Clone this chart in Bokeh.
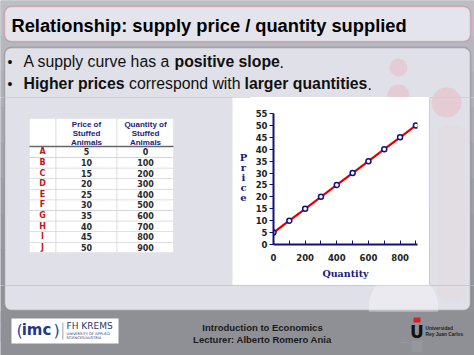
from bokeh.plotting import figure
from bokeh.models import Range1d, BoxAnnotation, Label, FixedTicker, LinearAxis
from bokeh.layouts import column, row
from bokeh.embed import file_html
from bokeh.resources import INLINE

# ---------------- data ----------------
row_labels = ["A", "B", "C", "D", "E", "F", "G", "H", "I", "J"]
price = [5, 10, 15, 20, 25, 30, 35, 40, 45, 50]
quantity = [0, 100, 200, 300, 400, 500, 600, 700, 800, 900]
x_major_ticks = [0, 200, 400, 600, 800]
x_minor_ticks = [100, 300, 500, 700, 900]
y_ticks = [0, 5, 10, 15, 20, 25, 30, 35, 40, 45, 50, 55]

title_text = "Relationship: supply price / quantity supplied"
header_price = ["Price of", "Stuffed", "Animals"]
header_qty = ["Quantity of", "Stuffed", "Animals"]

W, H = 474, 355
# layout cuts (page pixels)
Y_TOP, Y_BOT = 97, 285          # middle band (chart panel rows)
X_CH0, X_CH1 = 250, 429         # chart figure columns
FL, FR, FT, FB = 273, 417, 113, 244   # chart frame edges

# ---------------- decoration items (page pixel coordinates) ----------------
boxes = []
labels = []


def box(l, t, r, b, fill, line=None, lw=1.0, radius=0, alpha=1.0):
    boxes.append(dict(l=l, t=t, r=r, b=b, fill=fill, line=line, lw=lw,
                      radius=radius, alpha=alpha))


def lab(text, x, y, size, color="#111111", style="normal", align="left",
        font="Liberation Sans"):
    labels.append(dict(text=text, x=x, y=y, size=size, color=color,
                       style=style, align=align, font=font))


bands = ["#bcbdc5", "#b6b7bf", "#b0b1b9", "#aaabb3", "#a4a5ad", "#9ea0a8",
         "#999ba2", "#95979e", "#919399", "#8e9096"]
for i, c in enumerate(bands):
    box(0, i * 35.5, W, (i + 1) * 35.5 + 1, c)

# title bar
box(4, 6, 470, 41, "#e4e4ec", line="#c8505c", lw=1.6, radius=7)
lab(title_text, 11, 24.5, 18.3, "#000000", "bold")

# content box
box(4, 47, 470, 310, "#dfe0e8", line="#7d7f86", lw=1.4, radius=7)

# faint decorative circles
box(389, 58, 407, 76, "#e9bcc6", alpha=0.6, radius=9)
box(387, 84, 409, 106, "#e9bcc6", alpha=0.6, radius=11)
box(431, 87, 461, 117, "#e9bcc6", alpha=0.6, radius=15)
box(437, 125, 465, 300, "#e7d3da", alpha=0.35, radius=10)
box(368, 272, 438, 342, "#eeeef4", alpha=0.7, radius=35)
box(0, 311, W, 342, "#8e9096")
box(4, 47, 470, 310, None, line="#7d7f86", lw=1.4, radius=7)

# bullets
BF = 15.8
lab("\u2022", 7, 61, 14)
lab("A supply curve has a", 23, 61, BF)
lab("positive slope", 174, 61, BF, style="bold")
lab(".", 279, 61, BF)
lab("\u2022", 7, 83, 14)
lab("Higher prices", 23, 83, BF, style="bold")
lab("correspond with", 128.5, 83, BF)
lab("larger quantities", 244, 83, BF, style="bold")
lab(".", 367, 83, BF)

# table
TL, TR, TT, TB, TH = 29, 173, 118, 252, 146
row_h = (TB - TH) / len(row_labels)
col_x = [42, 86, 145]
box(TL, TT, TR, TB, "white", line="#d0d0d8", lw=1)
for xs in (55, 116):
    box(xs, TT, xs + 0.8, TB, "#d4d4dc")
for i in range(1, len(row_labels)):
    yy = TH + i * row_h
    box(TL, yy, TR, yy + 0.8, "#d4d4dc")
box(TL, TH - 0.8, TR, TH + 0.8, "#666670")
for k, t in enumerate(header_price):
    lab(t, col_x[1], 123.5 + k * 9.3, 8, "#22227a", "bold", "center")
for k, t in enumerate(header_qty):
    lab(t, col_x[2], 123.5 + k * 9.3, 8, "#22227a", "bold", "center")
for i, (r, pr, q) in enumerate(zip(row_labels, price, quantity)):
    yc = TH + (i + 0.5) * row_h
    lab(r, col_x[0], yc, 8, "#c01818", "bold", "center", font="DejaVu Sans")
    lab(str(pr), col_x[1], yc, 8, "#2a2a2a", "bold", "center", font="DejaVu Sans")
    lab(str(q), col_x[2], yc, 8, "#2a2a2a", "bold", "center", font="DejaVu Sans")

# chart white panel (part outside chart figure)
box(232, 97, 429, 285, "white")

# "Price" stacked vertical label
for k, ch in enumerate("Price"):
    lab(ch, 243, 157 + k * 10, 10, "#1a1a80", "bold", "center", font="DejaVu Serif")

# footer: left logo
box(11, 318, 118, 343, "white")
lab("(", 16, 330, 16, "#2a4aa0", "normal", font="DejaVu Sans")
lab("imc", 36, 329.5, 15, "#1f3888", "bold", "center", font="DejaVu Sans")
lab(")", 53, 330, 16, "#2a4aa0", "normal", font="DejaVu Sans")
box(62, 322, 62.8, 339, "#8a8a9a")
lab("FH KREMS", 66, 325.5, 9, "#2c3a66", "normal", font="DejaVu Sans")
lab("UNIVERSITY OF APPLIED", 66, 333, 3.6, "#2c3a66", "normal", font="DejaVu Sans")
lab("SCIENCES/AUSTRIA", 66, 337, 3.6, "#2c3a66", "normal", font="DejaVu Sans")

# footer: center text
lab("Introduction to Economics", 262, 327, 9.5, "#1a1a1a", "bold", "center")
lab("Lecturer: Alberto Romero Ania", 262, 338.5, 9.5, "#1a1a1a", "bold", "center")

# footer: right logo (Universidad Rey Juan Carlos)
box(413, 317, 420, 322, "#d8202a")
lab("U", 416.5, 331, 17, "#111111", "bold", "center", font="DejaVu Sans")
box(411, 340, 422, 352, "#9a9ca2", alpha=0.6)
lab("Universidad", 425, 328, 4.8, "#222222", "bold")
lab("Rey Juan Carlos", 425, 334, 4.8, "#222222", "bold")


def deco_fig(x0, x1, y0, y1):
    f = figure(width=x1 - x0, height=y1 - y0, output_backend="svg",
               toolbar_location=None, x_range=Range1d(x0, x1),
               y_range=Range1d(y1, y0), min_border=0,
               x_axis_location=None, y_axis_location=None)
    f.frame_align = False
    f.outline_line_color = None
    f.grid.visible = False
    f.background_fill_color = "#a4a6ae"
    f.border_fill_color = "#a4a6ae"
    for bx in boxes:
        if bx["r"] <= x0 or bx["l"] >= x1 or bx["b"] <= y0 or bx["t"] >= y1:
            continue
        f.add_layout(BoxAnnotation(left=bx["l"], right=bx["r"], top=bx["t"],
                                   bottom=bx["b"], fill_color=bx["fill"],
                                   fill_alpha=bx["alpha"] if bx["fill"] else 0,
                                   line_color=bx["line"], line_width=bx["lw"],
                                   border_radius=bx["radius"], level="underlay"))
    for lb in labels:
        if not (x0 <= lb["x"] < x1 and y0 <= lb["y"] < y1):
            continue
        f.add_layout(Label(x=lb["x"], y=lb["y"], text=lb["text"],
                           text_font_size=f"{lb['size']}px", text_color=lb["color"],
                           text_font_style=lb["style"], text_align=lb["align"],
                           text_baseline="middle", text_font=lb["font"]))
    return f


top = deco_fig(0, W, 0, Y_TOP)
left = deco_fig(0, X_CH0, Y_TOP, Y_BOT)
right = deco_fig(X_CH1, W, Y_TOP, Y_BOT)
bottom = deco_fig(0, W, Y_BOT, H)

# ---------------- chart ----------------
p = figure(width=X_CH1 - X_CH0, height=Y_BOT - Y_TOP, output_backend="svg",
           toolbar_location=None,
           x_range=Range1d(0, 910), y_range=Range1d(0, 55),
           min_border_left=FL - X_CH0, min_border_right=X_CH1 - FR,
           min_border_top=FT - Y_TOP, min_border_bottom=Y_BOT - FB,
           x_axis_location=None, y_axis_location=None)
p.frame_align = False
p.outline_line_color = None
p.grid.visible = False
p.background_fill_color = "white"
p.border_fill_color = "white"

p.line(quantity, price, line_color="#e00000", line_width=2.2)
p.scatter(quantity, price, marker="circle", size=5, line_color="#10108a",
          line_width=1.5, fill_color="white")

xaxis = LinearAxis(ticker=FixedTicker(ticks=x_major_ticks, minor_ticks=x_minor_ticks),
                   axis_label="Quantity")
xaxis.axis_line_color = "#10107a"
xaxis.axis_line_width = 2
xaxis.major_tick_line_color = "#10107a"
xaxis.minor_tick_line_color = "#10107a"
xaxis.major_tick_in = 4
xaxis.major_tick_out = 0
xaxis.minor_tick_in = 4
xaxis.minor_tick_out = 0
xaxis.major_label_standoff = 9
xaxis.major_label_text_font = "DejaVu Sans"
xaxis.major_label_text_font_style = "bold"
xaxis.major_label_text_font_size = "8.5px"
xaxis.major_label_text_color = "#222222"
xaxis.axis_label_text_font = "DejaVu Serif"
xaxis.axis_label_text_font_style = "bold"
xaxis.axis_label_text_font_size = "9.5px"
xaxis.axis_label_text_color = "#1a1a80"
xaxis.axis_label_standoff = 4
p.add_layout(xaxis, "below")

yaxis = LinearAxis(ticker=FixedTicker(ticks=y_ticks))
yaxis.axis_line_color = "#10107a"
yaxis.axis_line_width = 2
yaxis.major_tick_line_color = "#10107a"
yaxis.major_tick_in = 0
yaxis.major_tick_out = 4
yaxis.minor_tick_line_color = None
yaxis.major_label_standoff = 2
yaxis.major_label_text_font = "DejaVu Sans"
yaxis.major_label_text_font_style = "bold"
yaxis.major_label_text_font_size = "8.5px"
yaxis.major_label_text_color = "#222222"
p.add_layout(yaxis, "left")

layout = column(top, row(left, p, right), bottom)
open("out.html", "w").write(file_html(layout, INLINE))
